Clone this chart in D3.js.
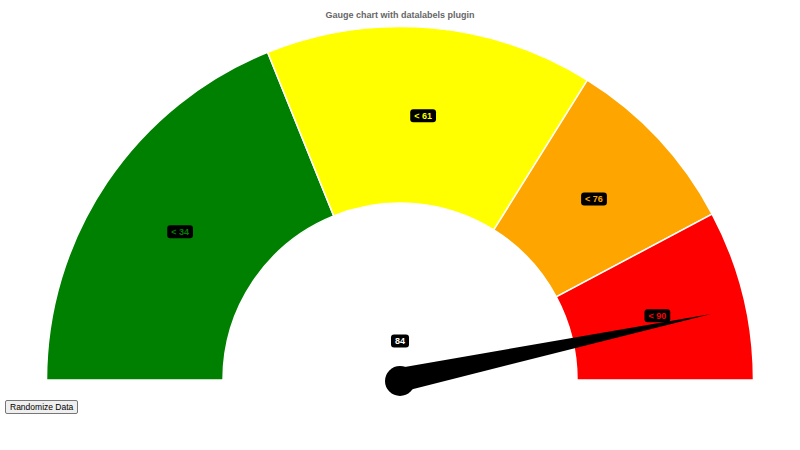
<!DOCTYPE html>
<html>
<head>
<meta charset="utf-8">
<script src="https://cdn.jsdelivr.net/npm/d3@7"></script>
<style>
    body { margin: 0; background: #fff; font-family: "Liberation Sans", Arial, sans-serif; }
    #chart { position: absolute; left: 0; top: 0; }
    #randomize {
        position: absolute; left: 5px; top: 400px; height: 14px; line-height: 10px;
        font-family: "Liberation Sans", Arial, sans-serif; font-size: 8.5px;
        padding: 0 4px; background: #efefef; border: 1px solid #767676; border-radius: 2px;
    }
</style>
</head>
<body>
<svg id="chart"></svg>
<button id="randomize">Randomize Data</button>
<script>
// gauge thresholds (upper bound of each band)
const limits = [34, 61, 76, 90];
const bandColors = ['green', 'yellow', 'orange', 'red'];
const bandLabels = ['< 34', '< 61', '< 76', '< 90'];
const needleValue = 84;
const title = 'Gauge chart with datalabels plugin';

const width = 800, height = 450;
const cx = 400, cy = 380;
const outerR = 353.5, innerR = 177;

const svg = d3.select('#chart')
    .attr('width', width)
    .attr('height', height);

svg.append('text')
    .attr('x', width / 2)
    .attr('y', 18)
    .attr('text-anchor', 'middle')
    .style('font-size', '9px')
    .style('font-weight', 'bold')
    .style('fill', '#666')
    .text(title);

// value -> angle (radians, d3.arc convention)
const angle = d3.scaleLinear()
    .domain([0, d3.max(limits)])
    .range([-Math.PI / 2, Math.PI / 2]);

const bands = limits.map((v, i) => ({
    start: i === 0 ? 0 : limits[i - 1],
    end: v,
    color: bandColors[i],
    label: bandLabels[i]
}));

const arc = d3.arc()
    .innerRadius(innerR)
    .outerRadius(outerR)
    .startAngle(d => angle(d.start))
    .endAngle(d => angle(d.end));

const g = svg.append('g')
    .attr('transform', `translate(${cx},${cy})`);

g.selectAll('path.band')
    .data(bands)
    .join('path')
    .attr('class', 'band')
    .attr('d', arc)
    .attr('fill', d => d.color)
    .attr('stroke', '#fff')
    .attr('stroke-width', 1.5);

// needle
const needleLen = 318;
const needleBase = 12;
const a = angle(needleValue);
const tip = [needleLen * Math.sin(a), -needleLen * Math.cos(a)];
const perp = [Math.cos(a), Math.sin(a)];
g.append('path')
    .attr('d', `M${perp[0] * needleBase},${perp[1] * needleBase}L${tip[0]},${tip[1]}L${-perp[0] * needleBase},${-perp[1] * needleBase}Z`)
    .attr('fill', '#000');
g.append('circle')
    .attr('r', 15)
    .attr('cy', 1)
    .attr('fill', '#000');

// data labels
function drawLabel(x, y, txt, color) {
    const lg = g.append('g').attr('transform', `translate(${x},${y})`);
    const t = lg.append('text')
        .attr('text-anchor', 'middle')
        .attr('dy', '0.35em')
        .style('font-size', '9px')
        .style('font-weight', 'bold')
        .style('fill', color)
        .text(txt);
    const bb = t.node().getBBox();
    lg.insert('rect', 'text')
        .attr('x', bb.x - 4)
        .attr('y', -6.5)
        .attr('width', bb.width + 8)
        .attr('height', 13)
        .attr('rx', 3)
        .attr('fill', '#000');
}

bands.forEach(d => {
    const c = arc.centroid(d);
    drawLabel(c[0], c[1], d.label, d.color);
});

drawLabel(0, -39, String(needleValue), '#fff');
</script>
</body>
</html>
